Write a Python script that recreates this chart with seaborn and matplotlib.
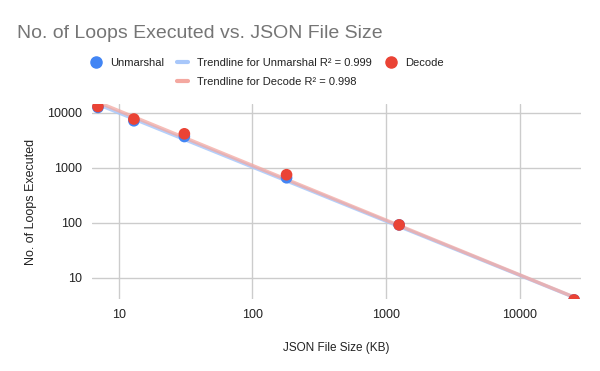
import numpy as np
import pandas as pd
import matplotlib
matplotlib.use("Agg")
import matplotlib.pyplot as plt
import seaborn as sns
from matplotlib.lines import Line2D
from matplotlib.ticker import FixedLocator, FixedFormatter, NullLocator

# values
file_size_kb = [7, 13, 31, 180, 1250, 25400]
unmarshal_loops = [12500, 7150, 3700, 660, 92, 4]
decode_loops = [13000, 7700, 4150, 750, 92, 4]
tick_values = [10, 100, 1000, 10000]
tick_labels = ["10", "100", "1000", "10000"]

df = pd.DataFrame({"size": file_size_kb,
                   "Unmarshal": unmarshal_loops,
                   "Decode": decode_loops})

blue = "#4285F4"
red = "#EA4335"

sns.set_style("white")
plt.rcParams["font.family"] = ["Liberation Sans", "DejaVu Sans"]

fig = plt.figure(figsize=(6, 3.71), dpi=100)
ax = fig.add_axes([0.153, 0.194, 0.815, 0.526])

# power trendlines (linear fit in log-log space)
def trend(col):
    lx = np.log10(df["size"])
    ly = np.log10(df[col])
    k, b = np.polyfit(lx, ly, 1)
    xs = np.array([df["size"].min(), df["size"].max()])
    return pd.DataFrame({"size": xs, "fit": 10 ** (k * np.log10(xs) + b)})

tu = trend("Unmarshal")
td = trend("Decode")
sns.lineplot(data=tu, x="size", y="fit", ax=ax, color="#A8C7FA", lw=2.5, alpha=0.85, zorder=2)
sns.lineplot(data=td, x="size", y="fit", ax=ax, color="#F4A8A0", lw=2.5, alpha=0.75, zorder=2)

sns.scatterplot(data=df, x="size", y="Unmarshal", ax=ax, color=blue, s=70,
                edgecolor="none", zorder=3, clip_on=True)
sns.scatterplot(data=df, x="size", y="Decode", ax=ax, color=red, s=70,
                edgecolor="none", zorder=4, clip_on=True)

ax.set_xscale("log")
ax.set_yscale("log")
ax.set_xlim(6.3, 28500)
ax.set_ylim(4.15, 14500)

for axis in (ax.xaxis, ax.yaxis):
    axis.set_major_locator(FixedLocator(tick_values))
    axis.set_major_formatter(FixedFormatter(tick_labels))
    axis.set_minor_locator(NullLocator())

ax.grid(True, color="#CCCCCC", lw=1)
ax.tick_params(length=0, labelsize=9, colors="#222222", pad=7)
for s in ax.spines.values():
    s.set_visible(False)

ax.set_xlabel("JSON File Size (KB)", fontsize=8.5, color="#222222", labelpad=15)
ax.set_ylabel("No. of Loops Executed", fontsize=9, color="#222222", labelpad=7)

fig.text(0.028, 0.91, "No. of Loops Executed vs. JSON File Size",
         fontsize=14, color="#757575", va="center", ha="left")

blank = Line2D([], [], linestyle="none")
handles = [
    Line2D([], [], marker="o", linestyle="none", color=blue, markersize=8),
    blank,
    Line2D([], [], color="#A8C7FA", lw=3),
    Line2D([], [], color="#F4A8A0", lw=3),
    Line2D([], [], marker="o", linestyle="none", color=red, markersize=8),
    blank,
]
labels = ["Unmarshal", "",
          "Trendline for Unmarshal R² = 0.999", "Trendline for Decode R² = 0.998",
          "Decode", ""]
fig.legend(handles, labels, ncol=3, loc="center", bbox_to_anchor=(0.445, 0.805),
           frameon=False, fontsize=8, handlelength=1.0, handletextpad=0.8,
           columnspacing=1.2, labelspacing=0.75, labelcolor="#222222")

fig.savefig("out.png", dpi=100)
